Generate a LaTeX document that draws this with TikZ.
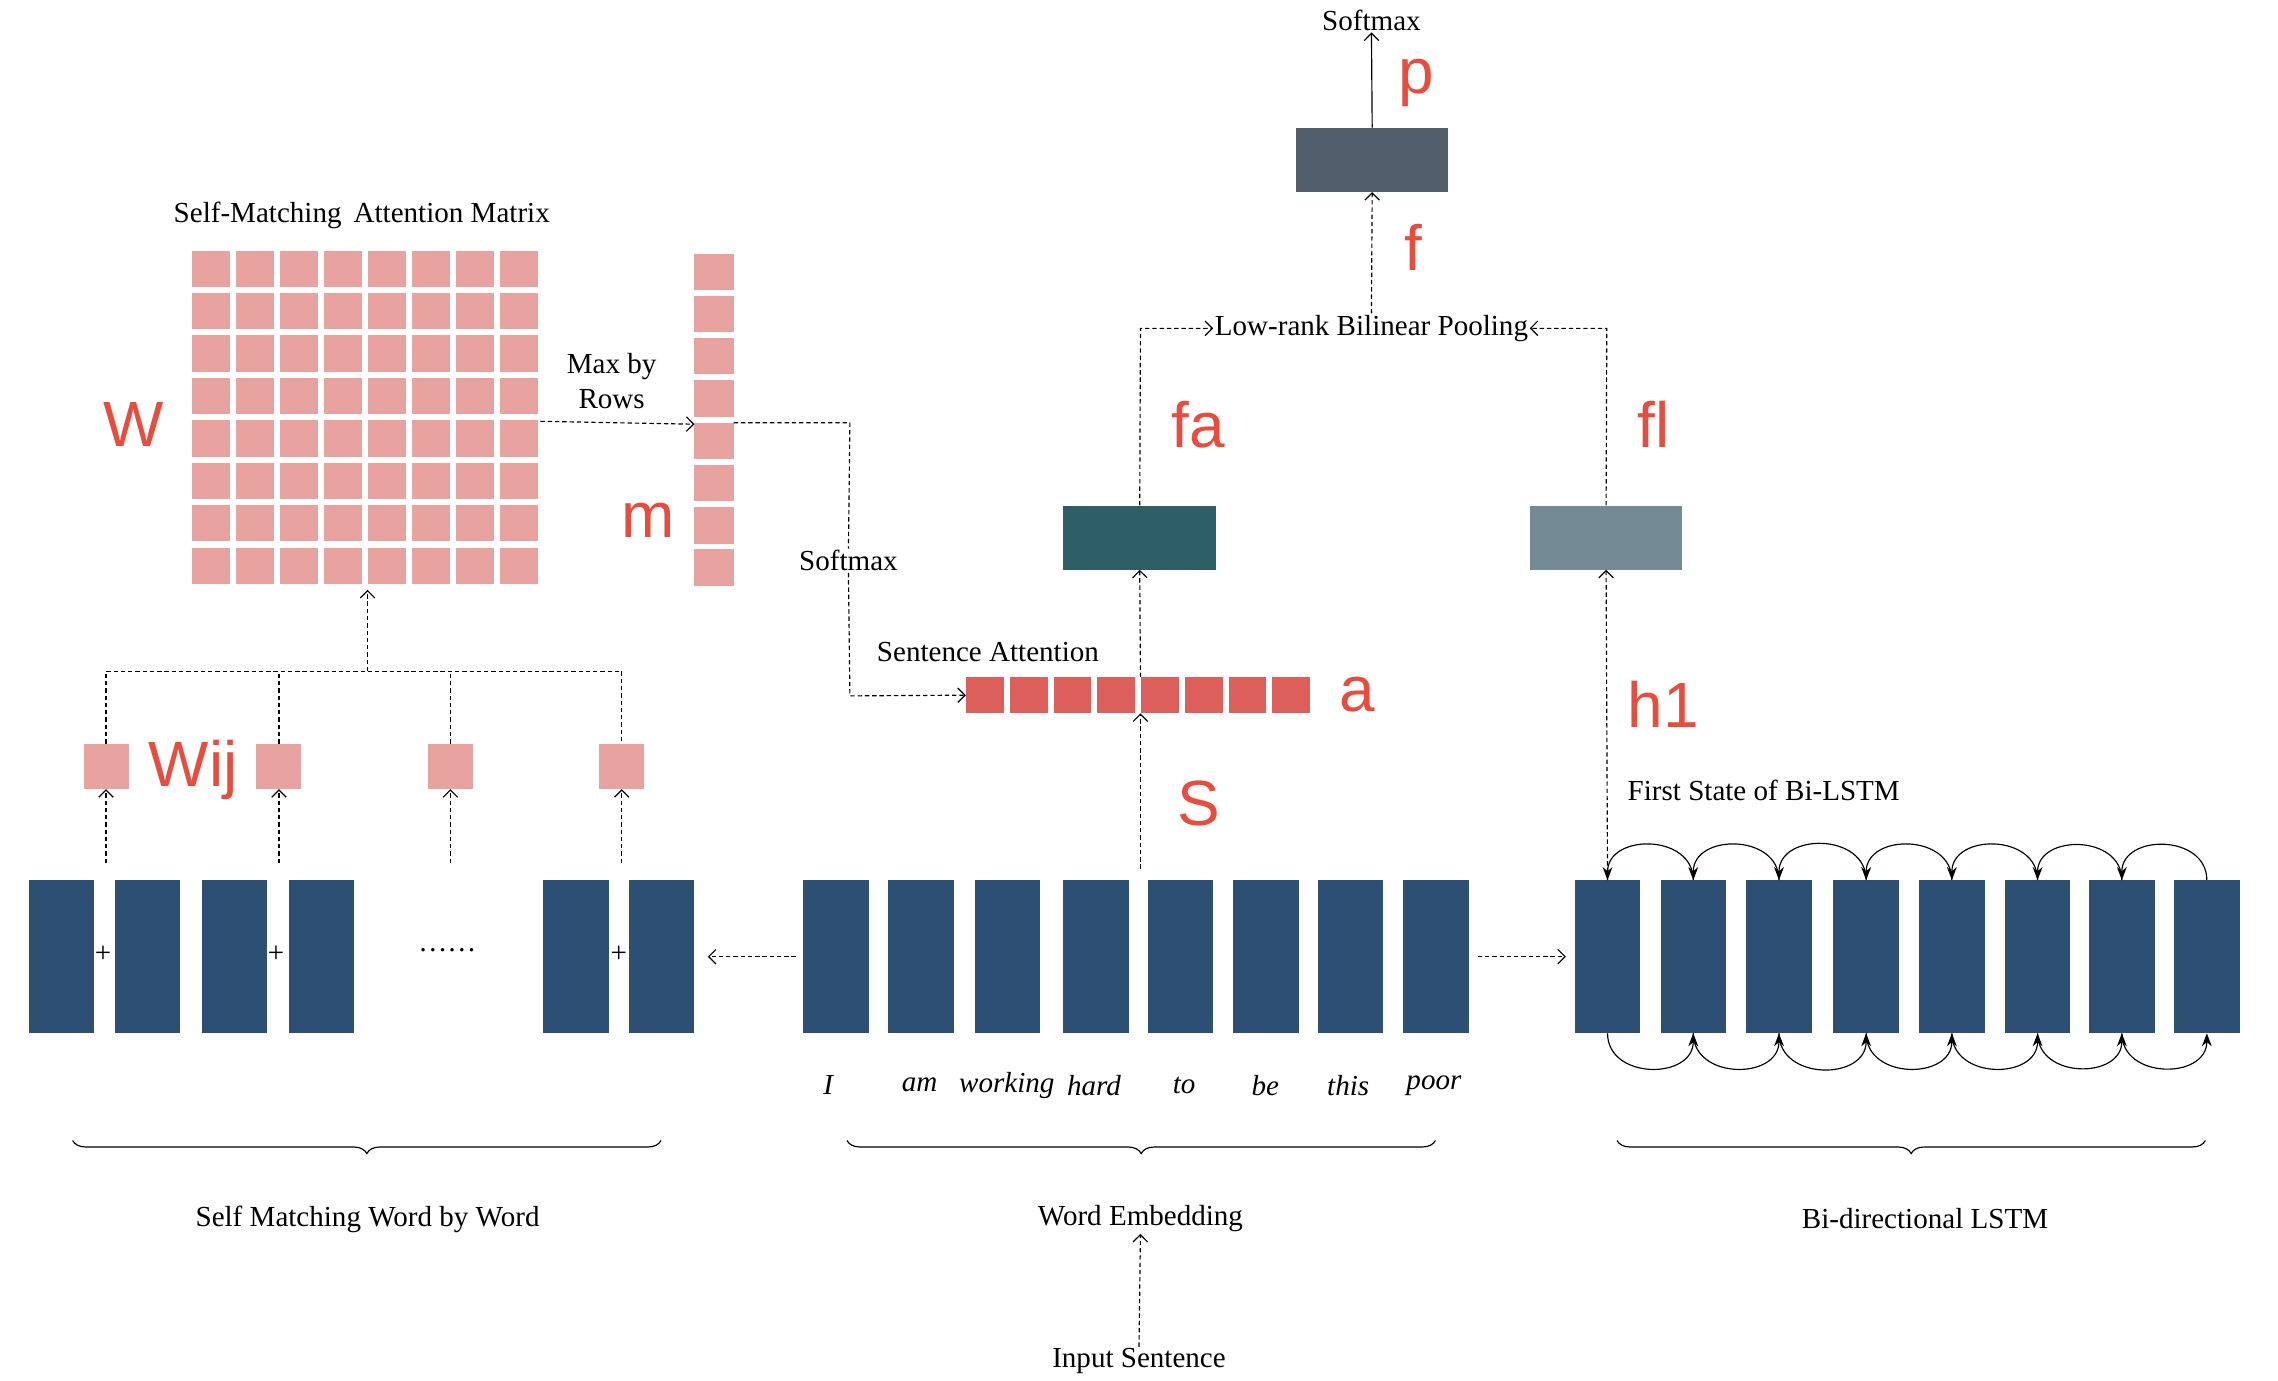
\documentclass[tikz,border=0pt]{standalone}
\usepackage{fontspec}
\setmainfont{Liberation Serif}
\newfontfamily\redf{Liberation Sans}
\usetikzlibrary{arrows.meta,decorations.pathreplacing,calc}
\definecolor{navy}{HTML}{2D4F74}
\definecolor{pinkc}{HTML}{E8A3A0}
\definecolor{redc}{HTML}{DC5F5C}
\definecolor{lab}{HTML}{E84C3D}
\definecolor{facol}{HTML}{2F5F66}
\definecolor{flcol}{HTML}{738A94}
\definecolor{fcol}{HTML}{505F6B}
\begin{document}
\begin{tikzpicture}[x=1pt,y=-1pt,
  blk/.style={fill=navy,draw=none,minimum width=45pt,minimum height=105pt,inner sep=0pt},
  cell/.style={fill=pinkc,draw=none,minimum width=26pt,minimum height=25pt,inner sep=0pt},
  acell/.style={fill=redc,draw=none,minimum width=26pt,minimum height=25pt,inner sep=0pt},
  fbox/.style={minimum width=105pt,minimum height=44pt,inner sep=0pt,draw=none},
  txt/.style={font=\fontsize{20}{24}\selectfont,inner sep=1pt},
  red/.style={text=lab,font=\redf\fontsize{44}{48}\selectfont,inner sep=0pt},
  da/.style={densely dashed,thick,-{Straight Barb[length=5pt]}},
  dl/.style={densely dashed,thick},
  arc/.style={thick,-{Stealth[length=9pt]}},
  br/.style={thick,decorate,decoration={brace,mirror,amplitude=9pt}}]
\useasboundingbox (0,0) rectangle (1568,950);
% left pairs
\foreach \x [count=\i] in {42.5,101.5,161.5,221.5,396.5,455.5}
  \node[blk] (L\i) at (\x,658.5) {};
\node[txt] (p1) at (71,657) {+};
\node[txt] (p2) at (190,657) {+};
\node[txt] (p3) at (426,657) {+};
\node[txt] (dots) at (308,654) {\dots\dots};
% small squares
\foreach \x [count=\i] in {73,192,310,428}{
  \node[cell,minimum width=31pt,minimum height=31pt] (s\i) at (\x,527.5) {};
  \coordinate (b\i) at (\x,594);
  \draw[da] (b\i) -- (s\i.south);
}
\node[red] (wij) at (133,530) {Wij};
\coordinate (j1) at (73,462); \coordinate (j4) at (428,462); \coordinate (jm) at (253,462);
\draw[dl] (s1.north) -- (j1) -- (j4) -- (s4.north);
\draw[dl] (s2.north) -- (192,462);
\draw[dl] (s3.north) -- (310,462);
% matrix
\foreach \r in {0,...,7}\foreach \c in {0,...,7}
  \node[cell] (M\r\c) at (145+\c*30.3,185+\r*29.2) {};
\node[txt] (mt) at (249,148) {Self-Matching\, Attention Matrix};
\node[red] (W) at (92,292) {W};
\draw[da] (jm) -- (253,406);
% column vector
\foreach \r in {0,...,7}
  \node[cell,minimum width=27pt] (v\r) at (491.5,187+\r*29.1) {};
\node[red] (m) at (446,358) {m};
\node[txt,align=center] (mbr) at (421,262) {Max by\\Rows};
\coordinate (mo) at (372,290);
\draw[da] (mo) -- (478,292);
\node[txt] (sm1) at (584,386) {Softmax};
\draw[dl] (505,291) -- (585,291) -- (sm1.north);
% sentence attention
\foreach \c in {0,...,7}
  \node[acell] (a\c) at (678+\c*30.1,478.5) {};
\node[txt] (sat) at (680,449) {Sentence Attention};
\node[red] (alab) at (934,478) {a};
\draw[da] (sm1.south) -- (585,479) -- (a0.west);
% word embedding
\foreach \x [count=\i] in {575.5,634,693.5,754.5,812.5,871.5,929.5,988.5}
  \node[blk] (E\i) at (\x,658.5) {};
\foreach \w/\x in {I/570,am/633,working/693,hard/753,to/815,be/871,this/928,poor/987}
  \node[txt,font=\fontsize{20}{24}\selectfont\itshape] (w\w) at (\x,747) {\w};
\coordinate (es) at (785,598);
\draw[da] (es) -- (785,491);
\node[red] (S) at (825,553) {S};
\node[fbox,fill=facol] (fa) at (784.5,370) {};
\node[fbox,fill=flcol] (fl) at (1105.5,370) {};
\node[fbox,fill=fcol] (f) at (944.5,110) {};
\draw[da] (785,466) -- (fa.south);
\node[red] (falab) at (825,292) {fa};
\node[red] (fllab) at (1138,292) {fl};
\node[red] (flab) at (973,170) {f};
\node[red] (plab) at (975,57) {p};
\node[txt] (lr) at (944,226) {Low-rank Bilinear Pooling};
\draw[da] (fa.north) -- (785,226) -- (lr.west);
\draw[da] (fl.north) -- (1106,226) -- (lr.east);
\draw[da] (lr.north) -- (f.south);
\node[txt] (sm2) at (944,14) {Softmax};
\draw[thick,-{Straight Barb[length=5pt]}] (f.north) -- (sm2.south);
% lstm
\foreach \x [count=\i] in {1106.5,1165.5,1224.5,1284.5,1343.5,1402.5,1460.5,1519}
  \node[blk] (B\i) at (\x,658.5) {};
\foreach \i [evaluate=\i as \j using int(\i+1)] in {1,...,7}{
  \draw[arc] (B\j.north) to[out=90,in=90,looseness=1.4] (B\i.north);
  \draw[arc] (B\i.south) to[out=-90,in=-90,looseness=1.4] (B\j.south);
}
\draw[da] (B1.north) -- (fl.south);
\node[red] (h1) at (1145,485) {h1};
\node[txt] (fs) at (1214,544) {First State of Bi-LSTM};
\draw[da] ($(E1.west)+(-5,0)$) -- ($(L6.east)+(9,0)$);
\draw[da] ($(E8.east)+(6,0)$) -- ($(B1.west)+(-6,0)$);
% braces
\draw[br] (50,785) -- (455,785);
\draw[br] (583,785) -- (988,785);
\draw[br] (1113,785) -- (1518,785);
\node[txt] (t1) at (253,839) {Self Matching Word by Word};
\node[txt] (t2) at (785,839) {Word Embedding};
\node[txt] (t3) at (1325,839) {Bi-directional LSTM};
\node[txt] (is) at (784,937) {Input Sentence};
\draw[da] (is.north) -- (t2.south);
\end{tikzpicture}
\end{document}
